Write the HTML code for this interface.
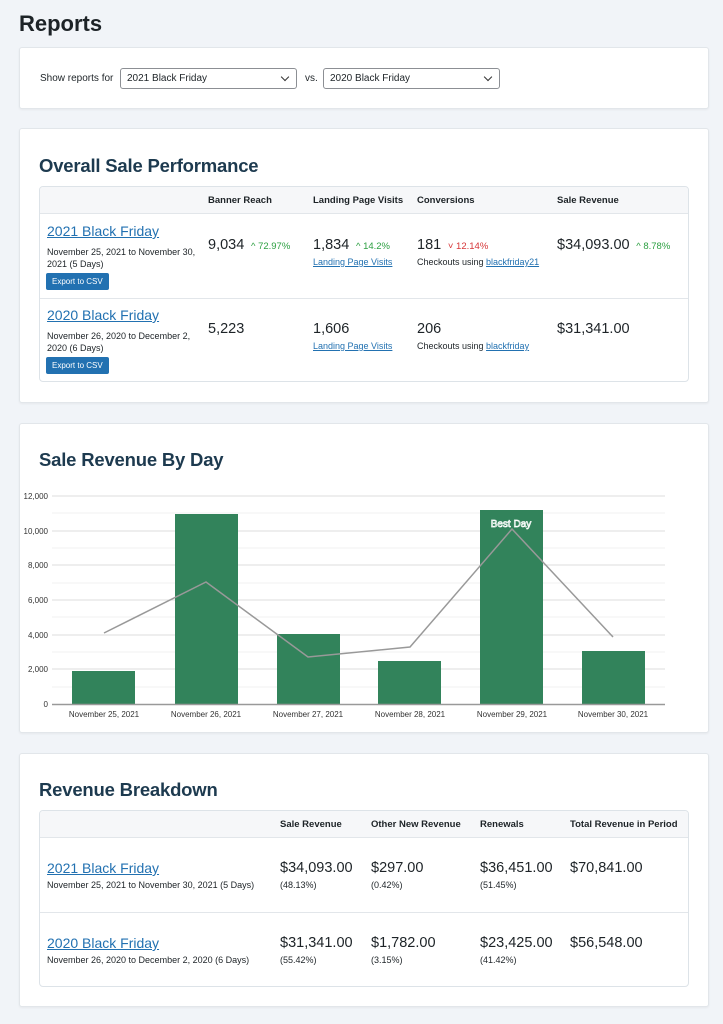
<!DOCTYPE html>
<html><head><meta charset="utf-8"><style>
*{box-sizing:border-box;margin:0;padding:0}
body{width:723px;height:1024px;background:#f1f4f8;font-family:"Liberation Sans",sans-serif;color:#1d2327;position:relative;overflow:hidden}
.abs{position:absolute}
.card{position:absolute;left:19px;width:690px;background:#fff;border:1px solid #e2e6ea;border-radius:3px;box-shadow:0 1px 2px rgba(0,0,0,.05)}
h2{position:absolute;left:19px;font-size:18.5px;font-weight:bold;color:#1d3a4f;letter-spacing:-0.2px}
.sel{position:absolute;height:21px;border:1px solid #8c8f94;border-radius:3px;font-size:10px;padding:4px 6px;background:#fff}
.sel:after{content:"";position:absolute;right:8px;top:5px;width:5px;height:5px;border-right:1.5px solid #333;border-bottom:1.5px solid #333;transform:rotate(45deg)}
.tbl{position:absolute;left:19px;width:650px;border:1px solid #dde3e8;border-radius:4px;overflow:hidden}
.th{position:absolute;font-size:9.5px;font-weight:bold;color:#1d2327}
.a{color:#2271b1;text-decoration:underline}
.big{font-size:14.5px}
.sm{font-size:9px}
.btn{position:absolute;background:#2271b1;color:#fff;font-size:8px;padding:4px 6px;border-radius:2px}
.up{color:#2ea043;font-size:9.5px}
.dn{color:#d63638;font-size:9.5px}
</style></head><body>
<div class="abs" style="left:19px;top:11px;font-size:22px;font-weight:bold">Reports</div>

<div class="card" style="top:47px;height:62px">
<div class="abs" style="left:20px;top:25px;font-size:10px">Show reports for</div>
<div class="sel" style="left:100px;top:20px;width:177px">2021 Black Friday</div>
<div class="abs" style="left:285px;top:25px;font-size:10px">vs.</div>
<div class="sel" style="left:303px;top:20px;width:177px">2020 Black Friday</div>
</div>

<div class="card" style="top:128px;height:275px">
<h2 style="top:26px">Overall Sale Performance</h2>
<div class="tbl" style="top:57px;height:196px">
<div class="abs" style="left:0;top:0;width:650px;height:27px;background:#f6f7f9;border-bottom:1px solid #e2e6ea"></div>
<div class="th" style="left:168px;top:8px">Banner Reach</div>
<div class="th" style="left:273px;top:8px">Landing Page Visits</div>
<div class="th" style="left:377px;top:8px">Conversions</div>
<div class="th" style="left:517px;top:8px">Sale Revenue</div>
<div class="abs" style="left:0;top:111px;width:650px;height:1px;background:#e2e6ea"></div>

<div class="abs a" style="left:7px;top:36px;font-size:14px">2021 Black Friday</div>
<div class="abs sm" style="left:7px;top:59px;width:150px;line-height:12px">November 25, 2021 to November 30, 2021 (5 Days)</div>
<div class="btn" style="left:6px;top:86px">Export to CSV</div>
<div class="abs big" style="left:168px;top:50px">9,034 <span class="up">&nbsp;^ 72.97%</span></div>
<div class="abs big" style="left:273px;top:50px">1,834 <span class="up">&nbsp;^ 14.2%</span></div>
<div class="abs sm a" style="left:273px;top:70px">Landing Page Visits</div>
<div class="abs big" style="left:377px;top:50px">181 <span class="dn">&nbsp;˅ 12.14%</span></div>
<div class="abs sm" style="left:377px;top:70px">Checkouts using <span class="a">blackfriday21</span></div>
<div class="abs big" style="left:517px;top:50px">$34,093.00 <span class="up">&nbsp;^ 8.78%</span></div>

<div class="abs a" style="left:7px;top:120px;font-size:14px">2020 Black Friday</div>
<div class="abs sm" style="left:7px;top:143px;width:155px;line-height:12px">November 26, 2020 to December 2, 2020 (6 Days)</div>
<div class="btn" style="left:6px;top:170px">Export to CSV</div>
<div class="abs big" style="left:168px;top:134px">5,223</div>
<div class="abs big" style="left:273px;top:134px">1,606</div>
<div class="abs sm a" style="left:273px;top:154px">Landing Page Visits</div>
<div class="abs big" style="left:377px;top:134px">206</div>
<div class="abs sm" style="left:377px;top:154px">Checkouts using <span class="a">blackfriday</span></div>
<div class="abs big" style="left:517px;top:134px">$31,341.00</div>
</div>
</div>

<div class="card" style="top:423px;height:310px">
<h2 style="top:25px">Sale Revenue By Day</h2>
</div>
<svg class="abs" style="left:0;top:0" width="723" height="1024">
<g stroke="#f0f0f0" stroke-width="1">
<line x1="52" x2="665" y1="687" y2="687"/><line x1="52" x2="665" y1="652" y2="652"/><line x1="52" x2="665" y1="617" y2="617"/><line x1="52" x2="665" y1="583" y2="583"/><line x1="52" x2="665" y1="548" y2="548"/><line x1="52" x2="665" y1="513" y2="513"/>
</g>
<g stroke="#dcdcdc" stroke-width="1">
<line x1="52" x2="665" y1="496" y2="496"/><line x1="52" x2="665" y1="531" y2="531"/><line x1="52" x2="665" y1="565" y2="565"/><line x1="52" x2="665" y1="600" y2="600"/><line x1="52" x2="665" y1="635" y2="635"/><line x1="52" x2="665" y1="669" y2="669"/>
</g>
<g fill="#32835b">
<rect x="72" y="671" width="63" height="33"/><rect x="175" y="514" width="63" height="190"/><rect x="277" y="634" width="63" height="70"/><rect x="378" y="661" width="63" height="43"/><rect x="480" y="510" width="63" height="194"/><rect x="582" y="651" width="63" height="53"/>
</g>
<line x1="52" x2="665" y1="704.5" y2="704.5" stroke="#999" stroke-width="1.5"/>
<polyline points="104,633 206,582 308,657 410,647 512,529 613,637" fill="none" stroke="#999" stroke-width="1.5"/>
<text x="511" y="527" font-size="10" fill="#32835b" stroke="#fff" stroke-width="0.7" text-anchor="middle" font-family="Liberation Sans">Best Day</text>
<g font-size="8" fill="#333" text-anchor="end" font-family="Liberation Sans">
<text x="48" y="499">12,000</text><text x="48" y="534">10,000</text><text x="48" y="568">8,000</text><text x="48" y="603">6,000</text><text x="48" y="638">4,000</text><text x="48" y="672">2,000</text><text x="48" y="707">0</text>
</g>
<g font-size="8" fill="#333" text-anchor="middle" font-family="Liberation Sans">
<text x="104" y="717">November 25, 2021</text><text x="206" y="717">November 26, 2021</text><text x="308" y="717">November 27, 2021</text><text x="410" y="717">November 28, 2021</text><text x="512" y="717">November 29, 2021</text><text x="613" y="717">November 30, 2021</text>
</g>
</svg>

<div class="card" style="top:753px;height:254px">
<h2 style="top:25px">Revenue Breakdown</h2>
<div class="tbl" style="top:56px;height:177px">
<div class="abs" style="left:0;top:0;width:650px;height:27px;background:#f6f7f9;border-bottom:1px solid #e2e6ea"></div>
<div class="th" style="left:240px;top:8px">Sale Revenue</div>
<div class="th" style="left:331px;top:8px">Other New Revenue</div>
<div class="th" style="left:440px;top:8px">Renewals</div>
<div class="th" style="left:530px;top:8px">Total Revenue in Period</div>
<div class="abs" style="left:0;top:101px;width:650px;height:1px;background:#e2e6ea"></div>
<div class="abs a" style="left:7px;top:49px;font-size:14px">2021 Black Friday</div>
<div class="abs sm" style="left:7px;top:69px">November 25, 2021 to November 30, 2021 (5 Days)</div>
<div class="abs big" style="left:240px;top:49px">$34,093.00</div><div class="abs sm" style="left:240px;top:69px">(48.13%)</div>
<div class="abs big" style="left:331px;top:49px">$297.00</div><div class="abs sm" style="left:331px;top:69px">(0.42%)</div>
<div class="abs big" style="left:440px;top:49px">$36,451.00</div><div class="abs sm" style="left:440px;top:69px">(51.45%)</div>
<div class="abs big" style="left:530px;top:49px">$70,841.00</div>
<div class="abs a" style="left:7px;top:124px;font-size:14px">2020 Black Friday</div>
<div class="abs sm" style="left:7px;top:144px">November 26, 2020 to December 2, 2020 (6 Days)</div>
<div class="abs big" style="left:240px;top:124px">$31,341.00</div><div class="abs sm" style="left:240px;top:144px">(55.42%)</div>
<div class="abs big" style="left:331px;top:124px">$1,782.00</div><div class="abs sm" style="left:331px;top:144px">(3.15%)</div>
<div class="abs big" style="left:440px;top:124px">$23,425.00</div><div class="abs sm" style="left:440px;top:144px">(41.42%)</div>
<div class="abs big" style="left:530px;top:124px">$56,548.00</div>
</div>
</div>
</body></html>
